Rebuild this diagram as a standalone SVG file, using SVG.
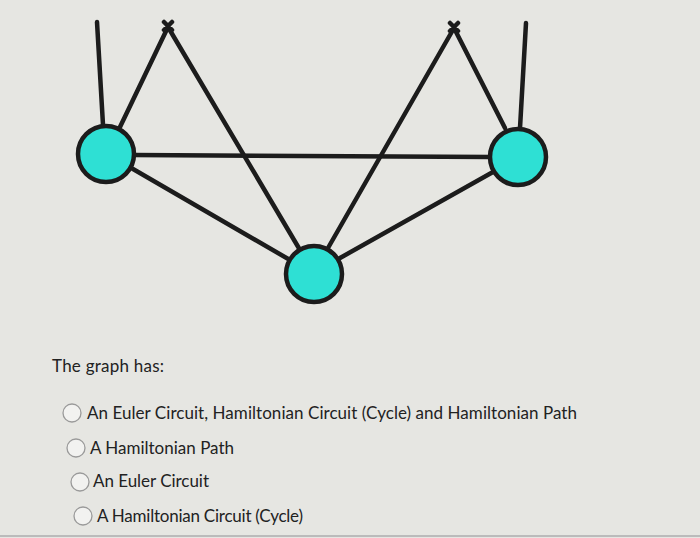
<svg xmlns="http://www.w3.org/2000/svg" width="700" height="538" viewBox="0 0 700 538">
<style>
.e{stroke:#1c1c1c;stroke-width:4.5;fill:none;stroke-linecap:round}
.n{fill:#2ee0d4;stroke:#1c1c1c;stroke-width:4.5}
.t{font-family:Lato,"Liberation Sans",sans-serif;font-size:17px;fill:#222}
.r{fill:#f2f2f0;stroke:#9a9a9a;stroke-width:1.3}
</style>
<rect width="700" height="538" fill="#e6e6e2"/>
<g id="connectors">
<line class="e" x1="97" y1="22" x2="103" y2="125"/>
<line class="e" x1="120" y1="127" x2="168" y2="27"/>
<line class="e" x1="168" y1="27" x2="300" y2="250"/>
<line class="e" x1="133" y1="155" x2="491" y2="157"/>
<line class="e" x1="133" y1="169" x2="290" y2="260"/>
<line class="e" x1="328" y1="248" x2="454" y2="28"/>
<line class="e" x1="454" y1="28" x2="505" y2="128"/>
<line class="e" x1="526" y1="23" x2="520" y2="128"/>
<line class="e" x1="340" y1="258" x2="493" y2="172"/>
<path class="e" d="M164 22 L172 30 M172 22 L164 30 M450 23 L458 31 M458 23 L450 31" stroke-width="2.5"/>
</g>
<g id="n1"><circle class="n" cx="106" cy="154" r="28"/></g>
<g id="n2"><circle class="n" cx="518" cy="157" r="28"/></g>
<g id="n3"><circle class="n" cx="314" cy="274" r="28"/></g>
<text class="t" x="52" y="372" textLength="112">The graph has:</text>
<g id="o1"><circle class="r" cx="72" cy="413" r="9"/><text class="t" x="87" y="419" textLength="490">An Euler Circuit, Hamiltonian Circuit (Cycle) and Hamiltonian Path</text></g>
<g id="o2"><circle class="r" cx="76" cy="448" r="9"/><text class="t" x="90" y="454" textLength="144">A Hamiltonian Path</text></g>
<g id="o3"><circle class="r" cx="80" cy="482" r="9"/><text class="t" x="93" y="487" textLength="116">An Euler Circuit</text></g>
<g id="o4"><circle class="r" cx="83" cy="516" r="9"/><text class="t" x="97" y="522" textLength="206">A Hamiltonian Circuit (Cycle)</text></g>
<line x1="0" y1="536" x2="700" y2="536" stroke="#bbb" stroke-width="2"/>
</svg>
